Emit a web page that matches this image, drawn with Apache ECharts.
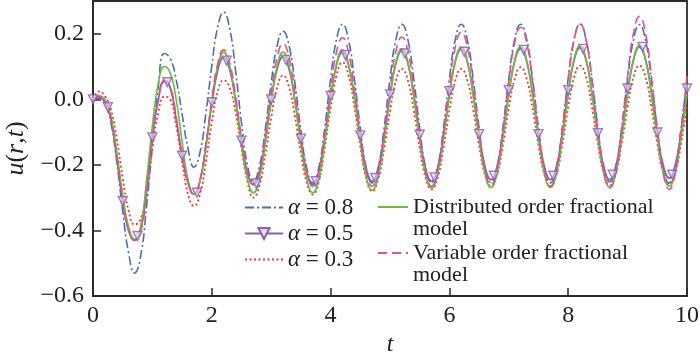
<!DOCTYPE html>
<html>
<head>
<meta charset="utf-8">
<script src="https://cdn.jsdelivr.net/npm/echarts@6/dist/echarts.min.js"></script>
<style>
  html, body { margin: 0; padding: 0; background: #fff; }
  #chart { width: 700px; height: 354px; }
</style>
</head>
<body>
<div id="chart"></div>
<script>
// time step of the sampled curves (t = 0 .. 10)
var tStep = 0.1;
var markerStep = 0.25;

// alpha = 0.8 (blue dash-dot)
var alpha08 = [
  0, 0.004, -0.01, -0.07, -0.19, -0.34, -0.47, -0.53, -0.48, -0.33,
  -0.14, 0.04, 0.14, 0.125, 0.06, -0.045, -0.15, -0.207, -0.163, -0.044,
  0.102, 0.221, 0.266, 0.217, 0.088, -0.072, -0.201, -0.25, -0.206, -0.092,
  0.05, 0.164, 0.208, 0.164, 0.048, -0.095, -0.211, -0.255, -0.209, -0.088,
  0.062, 0.183, 0.229, 0.183, 0.062, -0.088, -0.209, -0.255, -0.209, -0.088,
  0.062, 0.183, 0.229, 0.183, 0.062, -0.088, -0.209, -0.255, -0.209, -0.088,
  0.062, 0.183, 0.229, 0.183, 0.062, -0.088, -0.208, -0.254, -0.208, -0.087,
  0.063, 0.184, 0.229, 0.184, 0.062, -0.088, -0.209, -0.255, -0.209, -0.088,
  0.063, 0.184, 0.23, 0.184, 0.063, -0.086, -0.207, -0.252, -0.207, -0.087,
  0.062, 0.182, 0.228, 0.182, 0.061, -0.089, -0.209, -0.255, -0.209, -0.088,
  0.062
];

// alpha = 0.5 (purple solid, triangle markers)
var alpha05 = [
  0, 0.005, -0.01, -0.06, -0.18, -0.31, -0.40, -0.43, -0.40, -0.28,
  -0.116, 0.0, 0.055, 0.035, -0.06, -0.172, -0.255, -0.29, -0.25, -0.145,
  -0.016, 0.089, 0.129, 0.092, -0.005, -0.126, -0.223, -0.26, -0.223, -0.125,
  -0.005, 0.093, 0.13, 0.093, -0.005, -0.125, -0.223, -0.26, -0.221, -0.12,
  0.004, 0.105, 0.144, 0.106, 0.008, -0.114, -0.212, -0.25, -0.212, -0.112,
  0.011, 0.111, 0.149, 0.111, 0.011, -0.112, -0.212, -0.25, -0.211, -0.11,
  0.014, 0.115, 0.154, 0.116, 0.016, -0.107, -0.207, -0.245, -0.207, -0.107,
  0.017, 0.117, 0.155, 0.117, 0.017, -0.107, -0.207, -0.245, -0.207, -0.106,
  0.019, 0.12, 0.158, 0.12, 0.019, -0.106, -0.207, -0.245, -0.206, -0.105,
  0.02, 0.121, 0.16, 0.122, 0.022, -0.102, -0.202, -0.24, -0.202, -0.102,
  0.022
];

// alpha = 0.5 marker positions, every 0.25
var alpha05Marks = [
  0, -0.024, -0.31, -0.417, -0.116, 0.052, -0.172, -0.285, -0.009, 0.118,
  -0.126, -0.257, 0.0, 0.12, -0.12, -0.25, 0.01, 0.135, -0.11, -0.24,
  0.015, 0.14, -0.108, -0.238, 0.025, 0.145, -0.106, -0.233, 0.028, 0.151,
  -0.106, -0.233, 0.028, 0.154, -0.103, -0.23, 0.033, 0.16, -0.101, -0.23,
  0.033
];

// alpha = 0.3 (red dotted)
var alpha03 = [
  0, 0.024, 0.01, -0.03, -0.12, -0.24, -0.34, -0.382, -0.365, -0.28,
  -0.15, -0.04, 0.008, 0.0, -0.08, -0.19, -0.29, -0.325, -0.29, -0.19,
  -0.07, 0.025, 0.058, 0.035, -0.04, -0.15, -0.25, -0.30, -0.264, -0.171,
  -0.056, 0.037, 0.073, 0.038, -0.052, -0.165, -0.255, -0.29, -0.252, -0.151,
  -0.026, 0.074, 0.113, 0.075, -0.023, -0.144, -0.242, -0.28, -0.244, -0.151,
  -0.036, 0.057, 0.093, 0.058, -0.034, -0.148, -0.24, -0.275, -0.24, -0.148,
  -0.034, 0.058, 0.093, 0.059, -0.031, -0.141, -0.231, -0.265, -0.23, -0.14,
  -0.027, 0.063, 0.098, 0.063, -0.027, -0.14, -0.23, -0.265, -0.23, -0.138,
  -0.024, 0.068, 0.103, 0.068, -0.023, -0.136, -0.227, -0.262, -0.227, -0.136,
  -0.023, 0.068, 0.103, 0.068, -0.022, -0.135, -0.225, -0.26, -0.225, -0.135,
  -0.022
];

// distributed order fractional model (green solid)
var distributed = [
  0, 0.011, 0.0, -0.05, -0.16, -0.29, -0.39, -0.427, -0.39, -0.25,
  -0.08, 0.05, 0.10, 0.08, 0.0, -0.13, -0.245, -0.29, -0.249, -0.14,
  -0.006, 0.103, 0.144, 0.103, -0.004, -0.137, -0.244, -0.285, -0.244, -0.137,
  -0.004, 0.103, 0.144, 0.103, -0.004, -0.137, -0.244, -0.285, -0.243, -0.134,
  0.0, 0.109, 0.151, 0.11, 0.003, -0.129, -0.236, -0.277, -0.236, -0.128,
  0.005, 0.113, 0.154, 0.114, 0.007, -0.123, -0.23, -0.27, -0.229, -0.122,
  0.011, 0.118, 0.159, 0.118, 0.011, -0.121, -0.228, -0.269, -0.228, -0.12,
  0.012, 0.12, 0.161, 0.12, 0.012, -0.12, -0.228, -0.269, -0.228, -0.119,
  0.014, 0.123, 0.164, 0.123, 0.015, -0.119, -0.227, -0.268, -0.227, -0.119,
  0.015, 0.123, 0.164, 0.123, 0.016, -0.116, -0.224, -0.265, -0.224, -0.116,
  0.016
];

// variable order fractional model (pink dashed)
var variable = [
  0, 0.008, -0.005, -0.055, -0.17, -0.30, -0.40, -0.43, -0.405, -0.29,
  -0.125, 0.0, 0.058, 0.04, -0.055, -0.17, -0.255, -0.29, -0.248, -0.138,
  -0.001, 0.109, 0.151, 0.112, 0.009, -0.118, -0.221, -0.26, -0.219, -0.111,
  0.021, 0.129, 0.17, 0.128, 0.02, -0.115, -0.223, -0.265, -0.222, -0.108,
  0.031, 0.145, 0.188, 0.145, 0.031, -0.108, -0.222, -0.265, -0.222, -0.108,
  0.033, 0.147, 0.19, 0.147, 0.033, -0.108, -0.222, -0.265, -0.22, -0.103,
  0.043, 0.16, 0.205, 0.161, 0.044, -0.1, -0.216, -0.26, -0.214, -0.094,
  0.054, 0.174, 0.22, 0.174, 0.052, -0.097, -0.219, -0.265, -0.218, -0.094,
  0.058, 0.182, 0.229, 0.181, 0.057, -0.097, -0.222, -0.27, -0.22, -0.089,
  0.072, 0.203, 0.253, 0.203, 0.071, -0.093, -0.225, -0.275, -0.225, -0.093,
  0.07
];

var names = ['α = 0.8', 'α = 0.5', 'α = 0.3', 'Distributed order fractional\nmodel', 'Variable order fractional\nmodel'];
var yTicks = [-0.6, -0.4, -0.2, 0.0, 0.2];

function toPairs(arr, step) {
  var out = [];
  for (var i = 0; i < arr.length; i++) {
    out.push([+(i * step).toFixed(2), arr[i]]);
  }
  return out;
}

var serifFont = "'Liberation Serif', serif";
var cBlue = '#4a6fb3', cPurple = '#8a5fb0', cRed = '#f03a2e', cGreen = '#6cbd3e', cPink = '#e8508c';

var chart = echarts.init(document.getElementById('chart'), null, { renderer: 'canvas' });

chart.setOption({
  animation: false,
  backgroundColor: '#fff',
  grid: {
    left: 93, right: 13, top: 1, bottom: 58,
    show: true, borderColor: '#2b2b2b', borderWidth: 1.8,
    containLabel: false, outerBoundsMode: 'none'
  },
  legend: [
    {
      orient: 'vertical', left: 244, top: 196, padding: 0,
      itemWidth: 38, itemHeight: 14, itemGap: 3,
      textStyle: {
        fontFamily: serifFont, fontSize: 23, lineHeight: 22, color: '#222',
        rich: { i: { fontFamily: serifFont, fontSize: 23, lineHeight: 22, fontStyle: 'italic', color: '#222' } }
      },
      formatter: function (n) { return n.replace('α', '{i|α}'); },
      data: [
        { name: names[0], itemStyle: { opacity: 0 } },
        { name: names[1] },
        { name: names[2], itemStyle: { opacity: 0 } }
      ]
    },
    {
      orient: 'vertical', left: 377, top: 174, padding: 0,
      itemWidth: 30, itemHeight: 14, itemGap: -20,
      textStyle: { fontFamily: serifFont, fontSize: 22, lineHeight: 22, color: '#222' },
      // leading blank line keeps the first text line level with the icon
      formatter: function (n) { return ' \n' + n; },
      data: [
        { name: names[3], itemStyle: { opacity: 0 } },
        { name: names[4], itemStyle: { opacity: 0 } }
      ]
    }
  ],
  xAxis: {
    type: 'value', min: 0, max: 10, interval: 2,
    name: 't', nameLocation: 'middle', nameGap: 30,
    nameTextStyle: { fontFamily: serifFont, fontSize: 24, fontStyle: 'italic', color: '#222' },
    axisLine: { onZero: false, lineStyle: { color: '#2b2b2b', width: 1.8 } },
    axisTick: { inside: true, length: 8, lineStyle: { color: '#2b2b2b', width: 1.5 } },
    axisLabel: { margin: 8, fontFamily: serifFont, fontSize: 24, color: '#222' },
    splitLine: { show: false }
  },
  yAxis: {
    type: 'value', min: -0.6, max: 0.3, interval: 0.2,
    name: '{i|u}({i|r},{i|t})', nameLocation: 'middle', nameGap: 60, nameRotate: 90,
    nameTextStyle: {
      fontFamily: serifFont, fontSize: 26, color: '#222',
      rich: { i: { fontFamily: serifFont, fontSize: 26, fontStyle: 'italic', color: '#222' } }
    },
    axisLine: { lineStyle: { color: '#2b2b2b', width: 1.8 } },
    axisTick: { inside: true, length: 8, lineStyle: { color: '#2b2b2b', width: 1.5 } },
    axisLabel: {
      margin: 9, fontFamily: serifFont, fontSize: 24, color: '#222', showMaxLabel: false,
      formatter: function (v) {
        var hit = yTicks.some(function (t) { return Math.abs(t - v) < 1e-6; });
        if (!hit) return '';
        return (Math.abs(v) < 1e-9 ? '0.0' : v.toFixed(1)).replace('-', '\u2212');
      }
    },
    splitLine: { show: false }
  },
  series: [
    {
      name: names[0], type: 'line', smooth: true, symbol: 'none',
      lineStyle: { color: cBlue, width: 1.6, type: [9, 3, 2, 3] },
      itemStyle: { color: cBlue },
      data: toPairs(alpha08, tStep)
    },
    {
      name: names[1], type: 'line', smooth: true, showSymbol: false,
      symbol: 'triangle', symbolRotate: 180, symbolSize: 9,
      lineStyle: { color: cPurple, width: 1.8 },
      itemStyle: { color: '#e4d9ef', borderColor: cPurple, borderWidth: 1.4 },
      data: toPairs(alpha05, tStep)
    },
    {
      name: names[1] + ' marks', type: 'scatter', symbol: 'triangle', symbolRotate: 180, symbolSize: 9,
      itemStyle: { color: 'rgba(228,217,239,0.75)', borderColor: cPurple, borderWidth: 1.4 },
      z: 5,
      data: toPairs(alpha05Marks, markerStep)
    },
    {
      name: names[2], type: 'line', smooth: true, symbol: 'none',
      lineStyle: { color: cRed, width: 1.8, type: [2, 2.5] },
      itemStyle: { color: cRed },
      data: toPairs(alpha03, tStep)
    },
    {
      name: names[3], type: 'line', smooth: true, symbol: 'none',
      lineStyle: { color: cGreen, width: 1.6 },
      itemStyle: { color: cGreen },
      data: toPairs(distributed, tStep)
    },
    {
      name: names[4], type: 'line', smooth: true, symbol: 'none',
      lineStyle: { color: cPink, width: 1.6, type: [9, 5] },
      itemStyle: { color: cPink },
      data: toPairs(variable, tStep)
    }
  ]
});
</script>
</body>
</html>
